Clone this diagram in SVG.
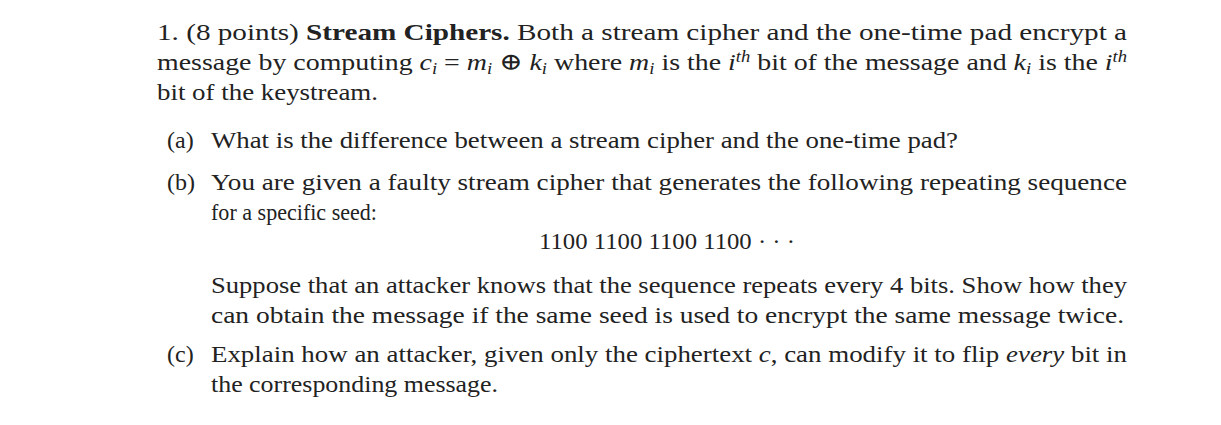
<svg xmlns="http://www.w3.org/2000/svg" width="1221" height="425" viewBox="0 0 1221 425">
<style>
text{font-family:"Liberation Serif","DejaVu Serif",serif;font-size:24px;fill:#222}
.b{font-weight:bold}.i{font-style:italic}.s{font-size:16px}
</style>
<rect width="1221" height="425" fill="#fff"/>
<g id="problem">
<text x="157" y="40" textLength="970" lengthAdjust="spacingAndGlyphs">1. (8 points) <tspan class="b">Stream Ciphers.</tspan>  Both a stream cipher and the one-time pad encrypt a</text>
<text x="157" y="70" textLength="970" lengthAdjust="spacingAndGlyphs">message by computing <tspan class="i">c</tspan><tspan class="s i" dy="4">i</tspan><tspan dy="-4"> = </tspan><tspan class="i">m</tspan><tspan class="s i" dy="4">i</tspan><tspan dy="-4"> ⊕ </tspan><tspan class="i">k</tspan><tspan class="s i" dy="4">i</tspan><tspan dy="-4"> where </tspan><tspan class="i">m</tspan><tspan class="s i" dy="4">i</tspan><tspan dy="-4"> is the </tspan><tspan class="i">i</tspan><tspan class="s i" dy="-8">th</tspan><tspan dy="8"> bit of the message and </tspan><tspan class="i">k</tspan><tspan class="s i" dy="4">i</tspan><tspan dy="-4"> is the </tspan><tspan class="i">i</tspan><tspan class="s i" dy="-8">th</tspan></text>
<text x="157" y="100" textLength="221" lengthAdjust="spacingAndGlyphs">bit of the keystream.</text>
</g>
<g id="part-a">
<text x="167" y="148">(a)</text>
<text x="211" y="148" textLength="747" lengthAdjust="spacingAndGlyphs">What is the difference between a stream cipher and the one-time pad?</text>
</g>
<g id="part-b">
<text x="167" y="190">(b)</text>
<text x="211" y="190" textLength="916" lengthAdjust="spacingAndGlyphs">You are given a faulty stream cipher that generates the following repeating sequence</text>
<text x="211" y="220" textLength="166" lengthAdjust="spacingAndGlyphs">for a specific seed:</text>
<text x="539" y="249" textLength="256" lengthAdjust="spacingAndGlyphs">1100 1100 1100 1100  · · ·</text>
<text x="211" y="293" textLength="916" lengthAdjust="spacingAndGlyphs">Suppose that an attacker knows that the sequence repeats every 4 bits. Show how they</text>
<text x="211" y="323" textLength="913" lengthAdjust="spacingAndGlyphs">can obtain the message if the same seed is used to encrypt the same message twice.</text>
</g>
<g id="part-c">
<text x="167" y="362">(c)</text>
<text x="211" y="362" textLength="916" lengthAdjust="spacingAndGlyphs">Explain how an attacker, given only the ciphertext <tspan class="i">c</tspan>, can modify it to flip <tspan class="i">every</tspan> bit in</text>
<text x="211" y="392" textLength="287" lengthAdjust="spacingAndGlyphs">the corresponding message.</text>
</g>
</svg>
